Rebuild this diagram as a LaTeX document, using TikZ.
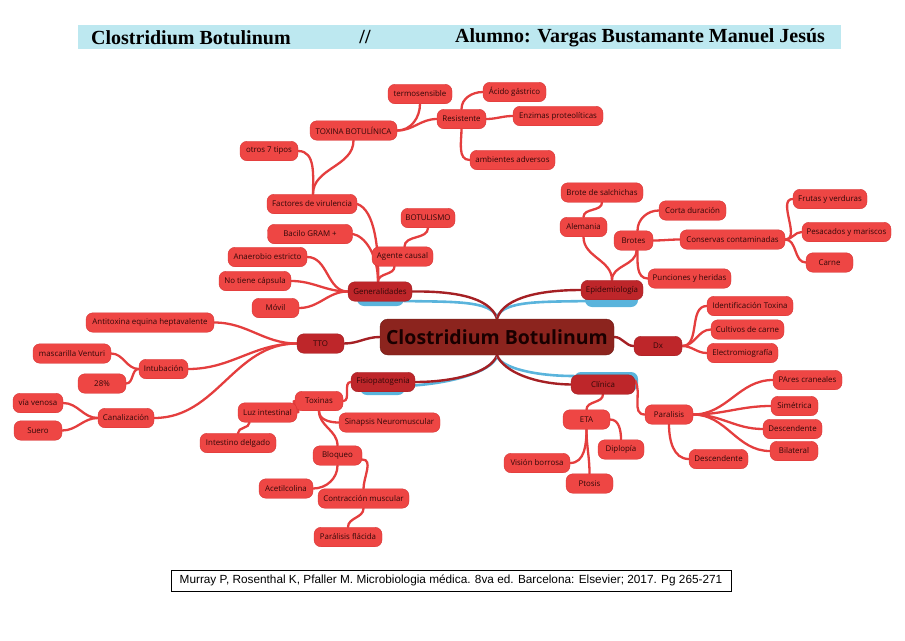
\documentclass[tikz,border=0pt]{standalone}
\usepackage{fontspec}
\setmainfont{Open Sans}
\newfontfamily\hdrfont{Liberation Serif}
\newfontfamily\ftrfont{Liberation Sans}
\usetikzlibrary{backgrounds}
\definecolor{subfill}{RGB}{238,70,68}
\definecolor{subedge}{RGB}{214,52,52}
\definecolor{mainfill}{RGB}{190,38,42}
\definecolor{cenfill}{RGB}{140,36,30}
\definecolor{linkred}{RGB}{228,62,62}
\definecolor{mainlink}{RGB}{165,32,36}
\definecolor{shadeblue}{RGB}{90,180,220}
\definecolor{txt}{RGB}{50,8,8}
\definecolor{hdrbg}{RGB}{189,232,240}
\tikzset{
  sub/.style={draw=subedge, line width=0.4pt, fill=subfill, rounded corners=7pt, minimum height=19.5pt, inner sep=0pt, text=txt, font=\fontsize{7.9}{9}\selectfont},
  mainb/.style={sub, fill=mainfill, draw=mainfill!85!black},
  lk/.style={draw=linkred, line width=2.3pt, line cap=round},
  mlk/.style={draw=mainlink, line width=2.4pt, line cap=round},
  blk/.style={draw=shadeblue, line width=2.6pt, line cap=round},
  bshade/.style={fill=shadeblue, rounded corners=7pt}
}
\begin{document}
\begin{tikzpicture}[x=1pt,y=-1pt]
\useasboundingbox (0,0) rectangle (905,640);
% header
\fill[hdrbg] (78,25) rectangle (841,49);
\node[anchor=west, inner sep=0pt, font=\hdrfont\bfseries\fontsize{20}{22}\selectfont] (h1) at (91,37.5) {Clostridium Botulinum};
\node[inner sep=0pt, font=\hdrfont\bfseries\fontsize{20}{22}\selectfont] (h2) at (365,37.5) {//};
\node[anchor=west, inner sep=0pt, font=\hdrfont\bfseries\fontsize{20}{22}\selectfont] (h3) at (455,37.5) {Alumno: Vargas Bustamante Manuel Jesús};
% footer
\node[draw=black, line width=0.8pt, minimum width=560pt, minimum height=21pt, inner sep=0pt, font=\ftrfont\fontsize{11.8}{13}\selectfont] (foot) at (451,580.5) {Murray P, Rosenthal K, Pfaller M. Microbiologia médica. 8va ed. Barcelona: Elsevier; 2017. Pg 265-271};

% ---------- nodes ----------
\node[draw=cenfill!80!black, fill=cenfill, rounded corners=8pt, minimum width=234pt, minimum height=36pt, inner sep=0pt, font=\bfseries\fontsize{19.5}{22}\selectfont, text=black!90!red] (cen) at (497,337) {Clostridium Botulinum};

\node[mainb, minimum width=64pt] (gen) at (380,291.5) {Generalidades};
\node[mainb, minimum width=62pt] (epi) at (612,290) {Epidemiología};
\node[mainb, minimum width=47pt] (tto) at (320.5,343.5) {TTO};
\node[mainb, minimum width=48pt] (dx) at (658,346) {Dx};
\node[mainb, minimum width=64pt] (fis) at (383,382) {Fisiopatogenia};
\node[mainb, minimum width=64pt] (cli) at (603,384.5) {Clínica};

% Generalidades branch
\node[sub, minimum width=64pt] (term) at (420,94) {termosensible};
\node[sub, minimum width=87pt] (toxb) at (353.5,130.5) {TOXINA BOTULÍNICA};
\node[sub, minimum width=49pt] (resis) at (461.5,119) {Resistente};
\node[sub, minimum width=63pt] (acido) at (514.5,92) {Ácido gástrico};
\node[sub, minimum width=90pt] (enz) at (558,116) {Enzimas proteolíticas};
\node[sub, minimum width=85pt] (amb) at (512.5,160) {ambientes adversos};
\node[sub, minimum width=58pt] (otros) at (269,151) {otros 7 tipos};
\node[sub, minimum width=90pt] (fact) at (312,204) {Factores de virulencia};
\node[sub, minimum width=54pt] (botu) at (428,218) {BOTULISMO};
\node[sub, minimum width=85pt] (bac) at (310,234) {Bacilo GRAM +};
\node[sub, minimum width=61pt] (age) at (402.5,256.5) {Agente causal};
\node[sub, minimum width=79pt] (anae) at (267.5,257) {Anaerobio estricto};
\node[sub, minimum width=72pt] (nocap) at (255,281) {No tiene cápsula};
\node[sub, minimum width=47pt] (movil) at (275.5,308) {Móvil};

% TTO branch
\node[sub, minimum width=128pt] (anti) at (150,322.5) {Antitoxina equina heptavalente};
\node[sub, minimum width=78pt] (masc) at (72,353.5) {mascarilla Venturi};
\node[sub, minimum width=49pt] (intu) at (163.5,369) {Intubación};
\node[sub, minimum width=48pt] (pct) at (102,383.5) {28\%};
\node[sub, minimum width=50pt] (via) at (38,403) {vía venosa};
\node[sub, minimum width=48pt] (suero) at (38,430.5) {Suero};
\node[sub, minimum width=56pt] (canal) at (126,418) {Canalización};

% Fisiopatogenia branch
\node[sub, minimum width=48pt] (toxs) at (319,401) {Toxinas};
\node[sub, minimum width=59pt] (luz) at (267.5,412.5) {Luz intestinal};
\node[sub, minimum width=101pt] (sinap) at (389.5,422.5) {Sinapsis Neuromuscular};
\node[sub, minimum width=76pt] (intes) at (238,443) {Intestino delgado};
\node[sub, minimum width=49pt] (bloq) at (337.5,455.5) {Bloqueo};
\node[sub, minimum width=54pt] (acet) at (286,488.5) {Acetilcolina};
\node[sub, minimum width=91pt] (contr) at (363.5,498.5) {Contracción muscular};
\node[sub, minimum width=68pt] (parf) at (348,537) {Parálisis flácida};

% Epidemiologia branch
\node[sub, minimum width=82pt] (salch) at (602,192.5) {Brote de salchichas};
\node[sub, minimum width=67pt] (corta) at (692.5,210.5) {Corta duración};
\node[sub, minimum width=74pt] (frut) at (830,199) {Frutas y verduras};
\node[sub, minimum width=47pt] (alem) at (583.5,227) {Alemania};
\node[sub, minimum width=39pt] (brot) at (633.5,240.5) {Brotes};
\node[sub, minimum width=105pt] (cons) at (732.5,239.5) {Conservas contaminadas};
\node[sub, minimum width=89pt] (pesc) at (846.5,232) {Pesacados y mariscos};
\node[sub, minimum width=47pt] (carne) at (829.5,262.5) {Carne};
\node[sub, minimum width=83pt] (punc) at (689.5,278.5) {Punciones y heridas};

% Dx branch
\node[sub, minimum width=86pt] (ident) at (750,306) {Identificación Toxina};
\node[sub, minimum width=73pt] (cult) at (747.5,329.5) {Cultivos de carne};
\node[sub, minimum width=71pt] (elec) at (742.5,353) {Electromiografía};

% Clinica branch
\node[sub, minimum width=69pt] (pares) at (807.5,380) {PAres craneales};
\node[sub, minimum width=47pt] (sime) at (794.5,406) {Simétrica};
\node[sub, minimum width=48pt] (para) at (669,414.5) {Paralisis};
\node[sub, minimum width=47pt] (eta) at (586.5,419.5) {ETA};
\node[sub, minimum width=59pt] (desc) at (792.5,429) {Descendente};
\node[sub, minimum width=48pt] (bila) at (794,451) {Bilateral};
\node[sub, minimum width=46pt] (dipl) at (621,449.5) {Diplopía};
\node[sub, minimum width=59pt] (desc2) at (718.5,459) {Descendente};
\node[sub, minimum width=66pt] (vis) at (537,463) {Visión borrosa};
\node[sub, minimum width=47pt] (ptos) at (589.5,483.5) {Ptosis};

% ---------- connectors (behind nodes) ----------
\begin{scope}[on background layer]
% blue shades behind main branches
\fill[bshade] (357,289) rectangle (404,306);
\fill[bshade] (585,289) rectangle (638,307);
\fill[bshade] (360,380) rectangle (405,395);
\fill[bshade] (574,372) rectangle (638,391);

% main connectors (blue companions then red)
\draw[blk] ([yshift=1pt]cen.north) .. controls (492,300) and (450,302) .. (404,301);
\draw[mlk] (cen.north) .. controls (490,296) and (450,291) .. (gen.east);
\draw[blk] ([yshift=1pt]cen.north) .. controls (502,300) and (545,302) .. (588,301);
\draw[mlk] (cen.north) .. controls (504,296) and (545,290) .. (epi.west);
\draw[blk] ([yshift=-1pt]cen.south) .. controls (492,372) and (450,384) .. (405,386);
\draw[mlk] (cen.south) .. controls (490,374) and (450,382) .. (fis.east);
\draw[blk] ([yshift=-1pt]cen.south) .. controls (502,368) and (535,376) .. (574,376);
\draw[mlk] (cen.south) .. controls (504,372) and (535,384) .. (cli.west);
\draw[mlk] (cen.west) to[out=180,in=0] (tto.east);
\draw[mlk] (cen.east) to[out=0,in=180] (dx.west);

% Generalidades
\draw[lk] (gen.west) to[out=180,in=0] (anae.east);
\draw[lk] (gen.west) to[out=180,in=0] (nocap.east);
\draw[lk] (gen.west) to[out=180,in=0] (movil.east);
\draw[lk] ([xshift=-2pt]gen.north) to[out=90,in=-90] ([xshift=-8pt]age.south);
\draw[lk] ([xshift=-2pt]gen.north) .. controls (379,250) and (375,210) .. (fact.east);
\draw[lk] ([xshift=-2pt]gen.north) .. controls (378,255) and (365,236) .. (bac.east);
\draw[lk] ([xshift=2pt]age.north) to[out=90,in=-90] (botu.south);
\draw[lk] ([xshift=1pt]fact.north) to[out=90,in=0] (otros.east);
\draw[lk] ([xshift=1pt]fact.north) to[out=90,in=-90] (toxb.south);
\draw[lk] (toxb.east) to[out=0,in=-90] (term.south);
\draw[lk] (toxb.east) to[out=0,in=180] (resis.west);
\draw[lk] (resis.north) to[out=90,in=180] (acido.west);
\draw[lk] (resis.east) to[out=0,in=180] (enz.west);
\draw[lk] (resis.south) to[out=-90,in=180] (amb.west);

% Epidemiologia
\draw[lk] (epi.north) to[out=90,in=-90] (alem.south);
\draw[lk] (epi.north) to[out=90,in=-90] ([xshift=3pt]brot.south);
\draw[lk] (alem.north) to[out=90,in=-90] (salch.south);
\draw[lk] ([xshift=4pt]brot.north) to[out=90,in=180] (corta.west);
\draw[lk] (brot.east) to[out=0,in=180] (cons.west);
\draw[lk] ([xshift=4pt]brot.south) to[out=-90,in=180] (punc.west);
\draw[lk] (cons.east) to[out=0,in=180] (frut.west);
\draw[lk] (cons.east) to[out=0,in=180] (pesc.west);
\draw[lk] (cons.east) to[out=0,in=180] (carne.west);

% Dx
\draw[lk] (dx.east) to[out=0,in=180] (ident.west);
\draw[lk] (dx.east) to[out=0,in=180] (cult.west);
\draw[lk] (dx.east) to[out=0,in=180] (elec.west);

% TTO
\draw[lk] (tto.west) to[out=180,in=0] (anti.east);
\draw[lk] (tto.west) to[out=180,in=0] (intu.east);
\draw[lk] (tto.west) to[out=180,in=0] (canal.east);
\draw[lk] (intu.west) to[out=180,in=0] (masc.east);
\draw[lk] (intu.west) to[out=180,in=0] (pct.east);
\draw[lk] (canal.west) to[out=180,in=0] (via.east);
\draw[lk] (canal.west) to[out=180,in=0] (suero.east);

% Fisiopatogenia
\draw[lk] (fis.west) to[out=180,in=0] (toxs.east);
\draw[lk] (toxs.west) to[out=180,in=0] (luz.east);
\draw[lk] (toxs.south) to[out=-90,in=180] (sinap.west);
\draw[lk] (toxs.south) to[out=-90,in=90] (bloq.north);
\draw[lk] ([xshift=-18pt]luz.south) to[out=-90,in=90] (intes.north);
\draw[lk] (bloq.south) to[out=-90,in=0] (acet.east);
\draw[lk] ([yshift=-4pt]bloq.east) to[out=0,in=90] (contr.north);
\draw[lk] (contr.south) to[out=-90,in=90] (parf.north);

% Clinica
\draw[lk] (cli.south) to[out=-90,in=90] (eta.north);
\draw[lk] ([yshift=4pt]cli.east) to[out=-60,in=180] (para.west);
\draw[lk] (eta.east) to[out=0,in=90] (dipl.north);
\draw[lk] (eta.south) to[out=-90,in=0] (vis.east);
\draw[lk] (eta.south) to[out=-90,in=90] (ptos.north);
\draw[lk] (para.east) to[out=0,in=180] (pares.west);
\draw[lk] (para.east) to[out=0,in=180] (sime.west);
\draw[lk] (para.east) to[out=0,in=180] (desc.west);
\draw[lk] (para.east) to[out=0,in=180] (bila.west);
\draw[lk] (para.south) to[out=-90,in=180] (desc2.west);
\end{scope}
\end{tikzpicture}
\end{document}
